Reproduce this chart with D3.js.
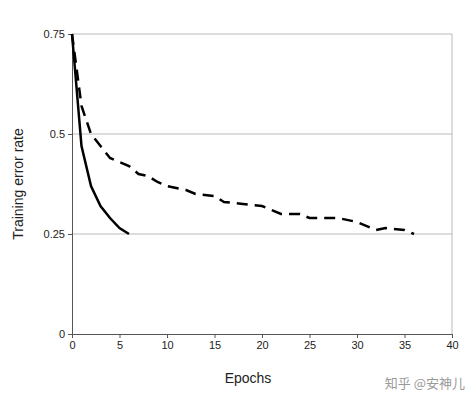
<!DOCTYPE html><html><head><meta charset="utf-8"><script src="https://cdn.jsdelivr.net/npm/d3@7"></script>
<style>body{margin:0;background:#fff}</style></head><body><svg id="c" width="474" height="402"></svg><script>
const solidX=[0,1,2,3,4,5,6];
const solidY=[0.75,0.47,0.37,0.32,0.29,0.265,0.25];
const dashX=[0,1,2,3,4,5,6,7,8,9,10,12,13,15,16,18,20,22,24,25,28,30,32,33,35,36];
const dashY=[0.75,0.57,0.5,0.47,0.44,0.43,0.42,0.40,0.395,0.38,0.37,0.36,0.35,0.345,0.33,0.325,0.32,0.30,0.30,0.29,0.29,0.28,0.26,0.265,0.26,0.25];
const xTicks=[0,5,10,15,20,25,30,35,40];
const yTicks=[0,0.25,0.5,0.75];
const yLabels=["0","0.25","0.5","0.75"];
const svg=d3.select("#c");
const x=d3.scaleLinear().domain([0,40]).range([72,452]);
const y=d3.scaleLinear().domain([0,0.75]).range([334,34]);
const f="Liberation Sans, Arial, sans-serif";
svg.append("g").selectAll("line").data(yTicks.slice(1)).join("line")
 .attr("x1",72).attr("x2",452).attr("y1",d=>y(d)).attr("y2",d=>y(d)).attr("stroke","#bbb");
svg.append("line").attr("x1",452).attr("x2",452).attr("y1",34).attr("y2",334).attr("stroke","#bbb");
const xa=svg.append("g").attr("transform","translate(0,334)").call(d3.axisBottom(x).tickValues(xTicks).tickSize(4));
const ya=svg.append("g").attr("transform","translate(72,0)").call(d3.axisLeft(y).tickValues(yTicks).tickFormat((d,i)=>yLabels[i]).tickSize(4));
[xa,ya].forEach(a=>{a.selectAll("path,line").attr("stroke","#555");a.selectAll("text").attr("font-family",f).attr("font-size",11).attr("fill","#222");});
const line=d3.line().x(d=>x(d[0])).y(d=>y(d[1]));
svg.append("path").datum(dashX.map((v,i)=>[v,dashY[i]])).attr("d",line).attr("fill","none").attr("stroke","#000").attr("stroke-width",2.5).attr("stroke-dasharray","11,7");
svg.append("path").datum(solidX.map((v,i)=>[v,solidY[i]])).attr("d",line).attr("fill","none").attr("stroke","#000").attr("stroke-width",2.5);
svg.append("text").attr("x",248).attr("y",383).attr("text-anchor","middle").attr("font-family",f).attr("font-size",14).attr("fill","#222").text("Epochs");
svg.append("text").attr("transform","translate(23,184) rotate(-90)").attr("text-anchor","middle").attr("font-family",f).attr("font-size",14).attr("fill","#222").text("Training error rate");
svg.append("text").attr("x",465).attr("y",388).attr("text-anchor","end").attr("font-family","Noto Sans CJK SC").attr("font-size",13).attr("fill","#999").text("知乎 @安神儿");
</script></body></html>
